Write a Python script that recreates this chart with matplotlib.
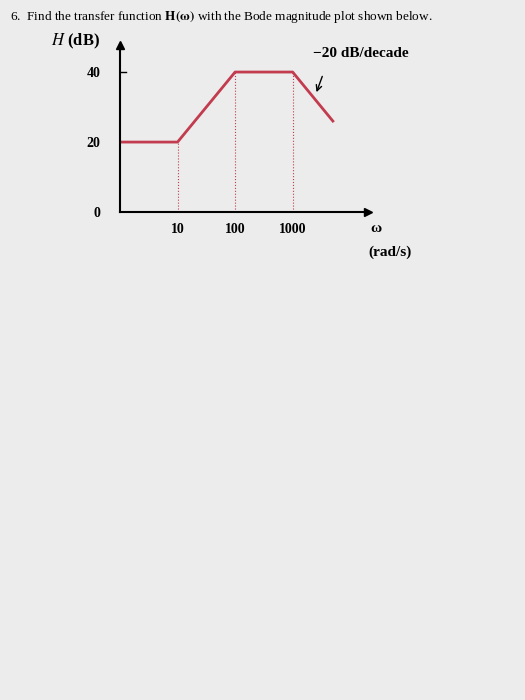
import numpy as np
import matplotlib.pyplot as plt

# Bode asymptote corner points (rad/s, dB)
freqs = [1, 10, 100, 1000, 5000]
mags = [20, 20, 40, 40, 26]
tick_freqs = [10, 100, 1000]
tick_labels = ['10', '100', '1000']
ytick_vals = [0, 20, 40]

plt.rcParams['font.family'] = ['Liberation Serif', 'DejaVu Serif']
plt.rcParams['mathtext.fontset'] = 'stix'

fig = plt.figure(figsize=(5.25, 7.0), dpi=100)
fig.patch.set_facecolor('#ececec')

fig.text(0.02, 0.976, '6.  Find the transfer function $\\mathbf{H(\\omega)}$ with the Bode magnitude plot shown below.',
         fontsize=9.5, va='center')

ax = fig.add_axes([0.2286, 0.697, 0.4724, 0.2386])
ax.set_facecolor('none')
ax.set_xscale('log')
ax.set_xlim(1, 10 ** 4.31)
ax.set_ylim(0, 47.7)

ax.plot(freqs, mags, color='#c23b4e', lw=2)
for f in tick_freqs:
    m = np.interp(np.log10(f), np.log10(freqs), mags)
    ax.plot([f, f], [0, m], color='#c23b4e', lw=0.8, ls=':')

for s in ['top', 'right']:
    ax.spines[s].set_visible(False)
for s in ['left', 'bottom']:
    ax.spines[s].set_linewidth(1.5)
ax.plot(0, 1, '^k', ms=6, transform=ax.transAxes, clip_on=False)
ax.plot(1, 0, '>k', ms=6, transform=ax.transAxes, clip_on=False)

ax.set_xticks(tick_freqs)
ax.set_xticklabels(tick_labels, fontsize=10, fontweight='bold')
ax.minorticks_off()
ax.tick_params(axis='x', length=0, pad=8)
ax.set_yticks(ytick_vals)
ax.set_yticklabels([str(v) for v in ytick_vals], fontsize=10, fontweight='bold')
ax.tick_params(axis='y', length=0, pad=14)
ax.plot([1, 1.25], [40, 40], color='k', lw=1, clip_on=False)

ax.text(-0.28, 1.02, '$\\mathbf{\\mathit{H}}$ (dB)', transform=ax.transAxes, fontsize=12,
        fontweight='bold', va='center')
ax.text(0.97, 0.95, '\u221220 dB/decade', transform=ax.transAxes, fontsize=11,
        fontweight='bold', ha='center', va='center')
ax.annotate('', xy=(2500, 33.5), xytext=(3400, 39.5),
            arrowprops=dict(arrowstyle='->', color='k', lw=1))
ax.text(1.03, -0.12, '\u03c9', transform=ax.transAxes, fontsize=11, fontweight='bold', ha='center')
ax.text(1.09, -0.26, '(rad/s)', transform=ax.transAxes, fontsize=11, fontweight='bold', ha='center')

fig.savefig('out.png', dpi=100, facecolor=fig.get_facecolor())
